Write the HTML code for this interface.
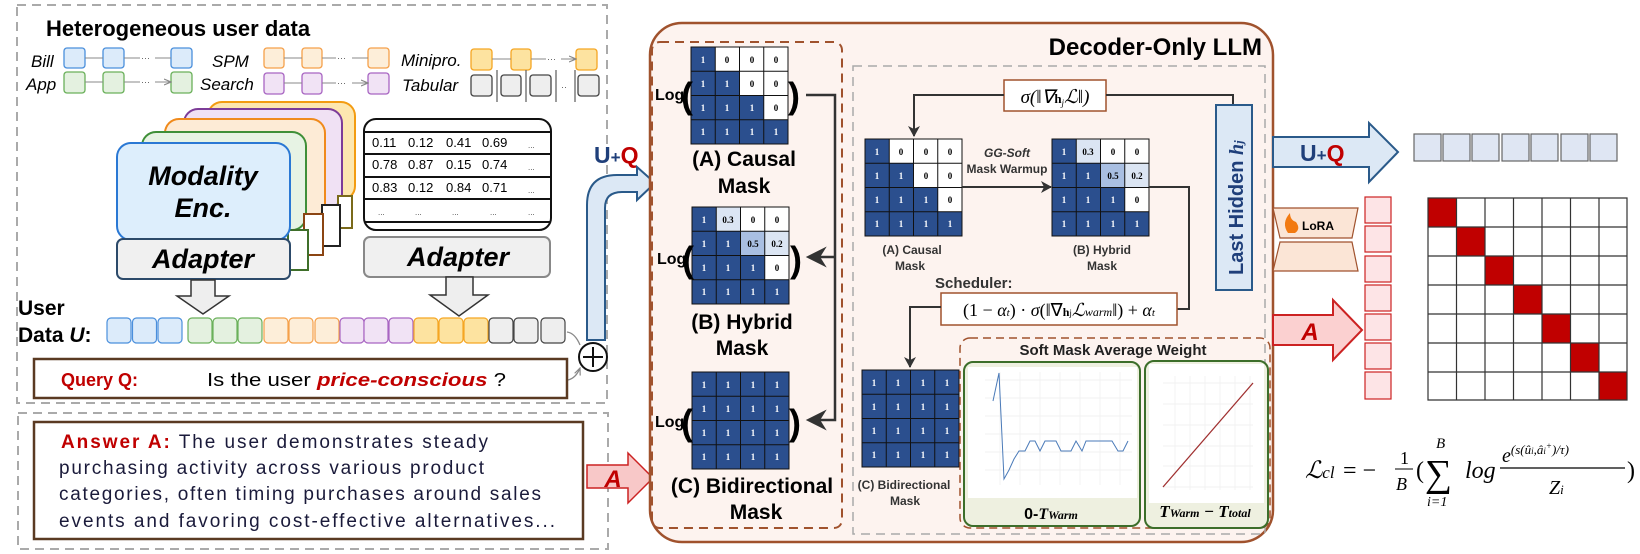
<!DOCTYPE html>
<html><head><meta charset="utf-8"><style>
body{margin:0;background:#fff}
svg{display:block;font-family:"Liberation Sans",sans-serif}
</style></head><body>
<svg width="1640" height="554" viewBox="0 0 1640 554" xmlns="http://www.w3.org/2000/svg">
<defs>
<marker id="ah" markerWidth="12" markerHeight="12" refX="10" refY="6" orient="auto" markerUnits="userSpaceOnUse"><path d="M0,0 L11,6 L0,12 L3,6z" fill="#333"/></marker>
<marker id="ag" markerWidth="8" markerHeight="8" refX="7" refY="4" orient="auto" markerUnits="userSpaceOnUse"><path d="M0,1 L7,4 L0,7" fill="none" stroke="#888" stroke-width="1.2"/></marker>
</defs>

<!-- left dashed boxes -->
<rect x="17" y="5" width="590" height="398" fill="none" stroke="#aaa" stroke-width="2" stroke-dasharray="9,6"/>
<rect x="18" y="413" width="590" height="136" fill="none" stroke="#aaa" stroke-width="2" stroke-dasharray="9,6"/>
<text x="46" y="36" font-size="22" font-weight="bold">Heterogeneous user data</text>

<!-- rows -->
<g font-style="italic" font-size="17">
<text x="31" y="67">Bill</text><text x="26" y="90">App</text>
<text x="212" y="67">SPM</text><text x="200" y="90">Search</text>
<text x="401" y="66">Minipro.</text><text x="402" y="91">Tabular</text>
</g>
<g stroke-width="1.3">
<g fill="#dcebfa" stroke="#4a8fdc"><rect x="64" y="48" width="21" height="20" rx="3"/><rect x="103" y="48" width="21" height="20" rx="3"/><rect x="171" y="48" width="21" height="20" rx="3"/></g>
<g fill="#e4f1e0" stroke="#6ab05a"><rect x="64" y="72" width="21" height="21" rx="3"/><rect x="103" y="72" width="21" height="21" rx="3"/><rect x="171" y="72" width="21" height="21" rx="3"/></g>
<g fill="#fdeed9" stroke="#f5a04a"><rect x="264" y="48" width="20" height="20" rx="3"/><rect x="302" y="48" width="20" height="20" rx="3"/><rect x="368" y="48" width="21" height="20" rx="3"/></g>
<g fill="#f1e3f5" stroke="#a865c2"><rect x="264" y="73" width="20" height="21" rx="3"/><rect x="302" y="73" width="20" height="21" rx="3"/><rect x="368" y="73" width="21" height="21" rx="3"/></g>
<g fill="#fde3a0" stroke="#f5a623"><rect x="471" y="49" width="21" height="21" rx="3"/><rect x="511" y="49" width="20" height="21" rx="3"/><rect x="576" y="49" width="21" height="21" rx="3"/></g>
<g fill="#eee" stroke="#444"><rect x="471" y="75" width="21" height="21" rx="3"/><rect x="501" y="75" width="20" height="21" rx="3"/><rect x="530" y="75" width="21" height="21" rx="3"/><rect x="578" y="75" width="21" height="21" rx="3"/></g>
<g stroke="#888" stroke-width="1" fill="none" marker-end="url(#ag)">
<path d="M85 58H103M124 58H140M155 58H171M85 82H103M124 82H140M155 82H171"/>
<path d="M284 58H302M322 58H336M352 58H368M284 83H302M322 83H336M352 83H368"/>
<path d="M492 59H511M531 59H546M561 59H576"/>
</g>
<path d="M497 70V102M526 70V102M556 70V102M575 70V102" stroke="#666"/>
</g>
<g font-size="9" fill="#555"><text x="141" y="61">···</text><text x="141" y="85">···</text><text x="337" y="61">···</text><text x="337" y="86">···</text><text x="547" y="62">···</text><text x="561" y="90">··</text></g>

<!-- encoder stack -->
<g stroke-width="2">
<rect x="208" y="102" width="147" height="98" rx="14" fill="#fde7b0" stroke="#f39c12"/>
<rect x="184" y="109" width="158" height="99" rx="14" fill="#f0e1f4" stroke="#7d3c98"/>
<rect x="165" y="119" width="160" height="99" rx="14" fill="#fdebd6" stroke="#f08a1c"/>
<rect x="142" y="132" width="164" height="98" rx="14" fill="#e7f3e4" stroke="#3f8f38"/>
<rect x="338" y="196" width="14" height="32" fill="#fff" stroke="#7a6a1a"/>
<rect x="322" y="205" width="18" height="41" fill="#fff" stroke="#222"/>
<rect x="304" y="214" width="19" height="41" fill="#fff" stroke="#8b4513"/>
<rect x="288" y="230" width="20" height="40" fill="#fff" stroke="#3f6f2a"/>
<rect x="117" y="143" width="173" height="97" rx="14" fill="#ddeefc" stroke="#2a78d4"/>
<rect x="117" y="239" width="173" height="40" rx="6" fill="#f0f0f0" stroke="#2c4a6a"/>
</g>
<text x="203" y="185" font-size="27" font-style="italic" font-weight="bold" text-anchor="middle">Modality</text>
<text x="203" y="217" font-size="27" font-style="italic" font-weight="bold" text-anchor="middle">Enc.</text>
<text x="203" y="268" font-size="27" font-style="italic" font-weight="bold" text-anchor="middle">Adapter</text>

<!-- table -->
<rect x="364" y="119" width="187" height="111" rx="12" fill="#fff" stroke="#111" stroke-width="2"/>
<path d="M364 132H551M364 154H551M364 177H551M364 199H551M364 222H551" stroke="#111" stroke-width="2"/>
<g font-size="13">
<text x="372" y="147">0.11</text><text x="408" y="147">0.12</text><text x="446" y="147">0.41</text><text x="482" y="147">0.69</text>
<text x="372" y="169">0.78</text><text x="408" y="169">0.87</text><text x="446" y="169">0.15</text><text x="482" y="169">0.74</text>
<text x="372" y="192">0.83</text><text x="408" y="192">0.12</text><text x="446" y="192">0.84</text><text x="482" y="192">0.71</text>
</g>
<g font-size="8" fill="#444"><text x="528" y="148">...</text><text x="528" y="170">...</text><text x="528" y="193">...</text>
<text x="378" y="215">...</text><text x="415" y="215">...</text><text x="452" y="215">...</text><text x="490" y="215">...</text><text x="528" y="215">...</text></g>
<rect x="364" y="237" width="186" height="40" rx="6" fill="#f0f0f0" stroke="#888" stroke-width="2"/>
<text x="458" y="266" font-size="27" font-style="italic" font-weight="bold" text-anchor="middle">Adapter</text>

<!-- down arrows -->
<path d="M191 280H215V296H229L203 314L177 296H191Z" fill="#eee" stroke="#333" stroke-width="1.5"/>
<path d="M446 277H473V295H488L459 316L430 295H446Z" fill="#eee" stroke="#333" stroke-width="1.5"/>

<!-- user data -->
<text x="18" y="315" font-size="21" font-weight="bold">User</text>
<text x="18" y="342" font-size="21" font-weight="bold">Data <tspan font-style="italic">U</tspan>:</text>
<g stroke-width="1.2">
<g fill="#dcebfa" stroke="#4a8fdc"><rect x="107" y="318" width="24" height="25" rx="4"/><rect x="132.5" y="318" width="24" height="25" rx="4"/><rect x="158" y="318" width="24" height="25" rx="4"/></g>
<g fill="#e4f1e0" stroke="#6ab05a"><rect x="188" y="318" width="24" height="25" rx="4"/><rect x="213" y="318" width="24" height="25" rx="4"/><rect x="238" y="318" width="24" height="25" rx="4"/></g>
<g fill="#fdeed9" stroke="#f5a04a"><rect x="264" y="318" width="24" height="25" rx="4"/><rect x="289" y="318" width="24" height="25" rx="4"/><rect x="315" y="318" width="24" height="25" rx="4"/></g>
<g fill="#f1e3f5" stroke="#a865c2"><rect x="340" y="318" width="24" height="25" rx="4"/><rect x="364" y="318" width="24" height="25" rx="4"/><rect x="389" y="318" width="24" height="25" rx="4"/></g>
<g fill="#fde3a0" stroke="#f5a623"><rect x="414" y="318" width="24" height="25" rx="4"/><rect x="439" y="318" width="24" height="25" rx="4"/><rect x="464" y="318" width="24" height="25" rx="4"/></g>
<g fill="#eee" stroke="#444"><rect x="489" y="318" width="24" height="25" rx="4"/><rect x="514" y="318" width="24" height="25" rx="4"/><rect x="541" y="318" width="24" height="25" rx="4"/></g>
</g>
<path d="M567 332Q575 333 580 345M568 380Q576 378 580 368" fill="none" stroke="#888" stroke-width="1.3" marker-end="url(#ag)"/>

<!-- U+Q up arrow -->
<path d="M587 340V205Q587 175 617 175H637V167L655 183L637 200V192H622Q605 192 605 208V340Z" fill="#dce8f5" stroke="#2a5a8a" stroke-width="2"/>
<text x="594" y="163" font-size="23" font-weight="bold" fill="#1f3f7a">U<tspan font-size="17">+</tspan><tspan fill="#c00000">Q</tspan></text>
<circle cx="593" cy="357" r="14" fill="#fff" stroke="#111" stroke-width="2"/>
<path d="M593 347V367M583 357H603" stroke="#111" stroke-width="2"/>

<!-- query -->
<rect x="34" y="359" width="533" height="39" fill="#fff" stroke="#5a3a22" stroke-width="2.5"/>
<text x="61" y="386" font-size="18" font-weight="bold" fill="#c00000">Query Q:</text>
<text x="207" y="386" font-size="18" textLength="299" lengthAdjust="spacingAndGlyphs">Is the user <tspan fill="#c00000" font-weight="bold" font-style="italic">price-conscious</tspan> ?</text>

<!-- answer -->
<rect x="34" y="422" width="549" height="117" fill="#fff" stroke="#5a3a22" stroke-width="2.5"/>
<g font-size="19" fill="#1a1a3a" lengthAdjust="spacingAndGlyphs">
<text x="61" y="448" textLength="427"><tspan fill="#c00000" font-weight="bold">Answer A:</tspan> The user demonstrates steady</text>
<text x="59" y="474" textLength="425">purchasing activity across various product</text>
<text x="59" y="500" textLength="482">categories, often timing purchases around sales</text>
<text x="59" y="527" textLength="496">events and favoring cost-effective alternatives...</text>
</g>
<path d="M587 465H628V453L653 478L628 503V488H587Z" fill="#f8c8c8" stroke="#cc2222" stroke-width="1.5"/>
<text x="613" y="487" font-size="24" font-style="italic" font-weight="bold" fill="#c00000" text-anchor="middle">A</text>

<!-- LLM box -->
<rect x="650" y="23" width="623" height="519" rx="32" fill="#fdf3ef" stroke="#a0522d" stroke-width="2.5"/>
<text x="1262" y="55" font-size="24" font-weight="bold" text-anchor="end">Decoder-Only LLM</text>
<rect x="652" y="42" width="190" height="486" rx="8" fill="none" stroke="#a0522d" stroke-width="2" stroke-dasharray="9,6"/>
<rect x="853" y="66" width="412" height="468" fill="none" stroke="#aaa" stroke-width="1.5" stroke-dasharray="9,6"/>

<!-- masks -->
<g font-family="Liberation Serif,serif" font-size="9" font-weight="bold" text-anchor="middle">
<g transform="translate(691,47)">
<rect width="97" height="97" fill="#2b4f8e"/><rect x="24.25" width="72.75" height="24.25" fill="#fff"/><rect x="48.5" y="24.25" width="48.5" height="24.25" fill="#fff"/><rect x="72.75" y="48.5" width="24.25" height="24.25" fill="#fff"/>
<path d="M0 0H97V97H0ZM0 24.25H97M0 48.5H97M0 72.75H97M24.25 0V97M48.5 0V97M72.75 0V97" fill="none" stroke="#111"/>
<text fill="#fff"><tspan x="12" y="16">1</tspan><tspan x="12 36" y="40">11</tspan><tspan x="12 36 61" y="64">111</tspan><tspan x="12 36 61 85" y="88">1111</tspan></text>
<text><tspan x="36 61 85" y="16">000</tspan><tspan x="61 85" y="40">00</tspan><tspan x="85" y="64">0</tspan></text>
</g>
<g transform="translate(692,207)">
<rect width="97" height="97" fill="#2b4f8e"/><rect x="24.25" width="24.25" height="24.25" fill="#dbe5f3"/><rect x="48.5" width="48.5" height="24.25" fill="#fff"/><rect x="48.5" y="24.25" width="24.25" height="24.25" fill="#a9bfe2"/><rect x="72.75" y="24.25" width="24.25" height="24.25" fill="#dbe5f3"/><rect x="72.75" y="48.5" width="24.25" height="24.25" fill="#fff"/>
<path d="M0 0H97V97H0ZM0 24.25H97M0 48.5H97M0 72.75H97M24.25 0V97M48.5 0V97M72.75 0V97" fill="none" stroke="#111"/>
<text fill="#fff"><tspan x="12" y="16">1</tspan><tspan x="12 36" y="40">11</tspan><tspan x="12 36 61" y="64">111</tspan><tspan x="12 36 61 85" y="88">1111</tspan></text>
<text><tspan x="36" y="16">0.3</tspan><tspan x="61 85" y="16">00</tspan><tspan x="61" y="40">0.5</tspan><tspan x="85" y="40">0.2</tspan><tspan x="85" y="64">0</tspan></text>
</g>
<g transform="translate(692,372)">
<rect width="97" height="97" fill="#2b4f8e"/>
<path d="M0 0H97V97H0ZM0 24.25H97M0 48.5H97M0 72.75H97M24.25 0V97M48.5 0V97M72.75 0V97" fill="none" stroke="#111"/>
<text fill="#fff"><tspan x="12 36 61 85" y="16">1111</tspan><tspan x="12 36 61 85" y="40">1111</tspan><tspan x="12 36 61 85" y="64">1111</tspan><tspan x="12 36 61 85" y="88">1111</tspan></text>
</g>
<g transform="translate(865,139)">
<rect width="97" height="97" fill="#2b4f8e"/><rect x="24.25" width="72.75" height="24.25" fill="#fff"/><rect x="48.5" y="24.25" width="48.5" height="24.25" fill="#fff"/><rect x="72.75" y="48.5" width="24.25" height="24.25" fill="#fff"/>
<path d="M0 0H97V97H0ZM0 24.25H97M0 48.5H97M0 72.75H97M24.25 0V97M48.5 0V97M72.75 0V97" fill="none" stroke="#111"/>
<text fill="#fff"><tspan x="12" y="16">1</tspan><tspan x="12 36" y="40">11</tspan><tspan x="12 36 61" y="64">111</tspan><tspan x="12 36 61 85" y="88">1111</tspan></text>
<text><tspan x="36 61 85" y="16">000</tspan><tspan x="61 85" y="40">00</tspan><tspan x="85" y="64">0</tspan></text>
</g>
<g transform="translate(1052,139)">
<rect width="97" height="97" fill="#2b4f8e"/><rect x="24.25" width="24.25" height="24.25" fill="#dbe5f3"/><rect x="48.5" width="48.5" height="24.25" fill="#fff"/><rect x="48.5" y="24.25" width="24.25" height="24.25" fill="#a9bfe2"/><rect x="72.75" y="24.25" width="24.25" height="24.25" fill="#dbe5f3"/><rect x="72.75" y="48.5" width="24.25" height="24.25" fill="#fff"/>
<path d="M0 0H97V97H0ZM0 24.25H97M0 48.5H97M0 72.75H97M24.25 0V97M48.5 0V97M72.75 0V97" fill="none" stroke="#111"/>
<text fill="#fff"><tspan x="12" y="16">1</tspan><tspan x="12 36" y="40">11</tspan><tspan x="12 36 61" y="64">111</tspan><tspan x="12 36 61 85" y="88">1111</tspan></text>
<text><tspan x="36" y="16">0.3</tspan><tspan x="61 85" y="16">00</tspan><tspan x="61" y="40">0.5</tspan><tspan x="85" y="40">0.2</tspan><tspan x="85" y="64">0</tspan></text>
</g>
<g transform="translate(862,370)">
<rect width="97" height="97" fill="#2b4f8e"/>
<path d="M0 0H97V97H0ZM0 24.25H97M0 48.5H97M0 72.75H97M24.25 0V97M48.5 0V97M72.75 0V97" fill="none" stroke="#111"/>
<text fill="#fff"><tspan x="12 36 61 85" y="16">1111</tspan><tspan x="12 36 61 85" y="40">1111</tspan><tspan x="12 36 61 85" y="64">1111</tspan><tspan x="12 36 61 85" y="88">1111</tspan></text>
</g>
</g>

<!-- Log parens -->
<g font-weight="bold">
<text x="655" y="100" font-size="16">Log</text><text x="681" y="108" font-size="36">(</text><text x="788" y="108" font-size="36">)</text>
<text x="657" y="264" font-size="16">Log</text><text x="682" y="272" font-size="36">(</text><text x="790" y="272" font-size="36">)</text>
<text x="655" y="427" font-size="16">Log</text><text x="681" y="435" font-size="36">(</text><text x="789" y="435" font-size="36">)</text>
</g>
<g font-size="21" font-weight="bold" text-anchor="middle">
<text x="744" y="166">(A) Causal</text><text x="744" y="193">Mask</text>
<text x="742" y="329">(B) Hybrid</text><text x="742" y="355">Mask</text>
<text x="752" y="493">(C) Bidirectional</text><text x="756" y="519">Mask</text>
</g>
<path d="M806 95H835V420H810M835 257H810" fill="none" stroke="#333" stroke-width="2.5"/>
<path d="M808 257L824 249L819 257L824 265ZM808 420L824 412L819 420L824 428Z" fill="#333" stroke="#333" stroke-width="2"/>

<!-- inner flow -->
<rect x="1004" y="80" width="102" height="31" fill="#fff" stroke="#a0522d" stroke-width="1.5"/>
<text x="1055" y="103" font-family="Liberation Serif,serif" font-size="19" font-style="italic" text-anchor="middle">σ(‖∇<tspan font-style="normal" font-weight="bold" font-size="13">h</tspan><tspan font-size="9" dy="3">j</tspan><tspan dy="-3">ℒ</tspan>‖)</text>
<path d="M1004 95H914V136" fill="none" stroke="#333" stroke-width="2" marker-end="url(#ah)"/>
<path d="M1106 95H1233V105" fill="none" stroke="#333" stroke-width="2"/>
<path d="M962 187H1051" fill="none" stroke="#333" stroke-width="2" marker-end="url(#ah)"/>
<text x="1007" y="157" font-size="12" font-weight="bold" font-style="italic" fill="#333" text-anchor="middle">GG-Soft</text>
<text x="1007" y="173" font-size="12" font-weight="bold" fill="#333" text-anchor="middle">Mask Warmup</text>
<path d="M1149 187H1189V309H1177" fill="none" stroke="#333" stroke-width="2"/>
<rect x="941" y="293" width="236" height="32" fill="#fff" stroke="#a0522d" stroke-width="1.5"/>
<text x="1059" y="316" font-family="Liberation Serif,serif" font-size="18" text-anchor="middle">(1 − <tspan font-style="italic">α<tspan font-size="11">t</tspan></tspan>) · <tspan font-style="italic">σ</tspan>(‖∇<tspan font-weight="bold" font-size="12">h</tspan><tspan font-size="9">j</tspan><tspan font-style="italic">ℒ<tspan font-size="12">warm</tspan></tspan>‖) + <tspan font-style="italic">α<tspan font-size="11">t</tspan></tspan></text>
<text x="935" y="288" font-size="15" font-weight="bold" fill="#333">Scheduler:</text>
<path d="M941 307H910V367" fill="none" stroke="#333" stroke-width="2" marker-end="url(#ah)"/>
<g font-size="12" font-weight="bold" fill="#333" text-anchor="middle">
<text x="912" y="254">(A) Causal</text><text x="910" y="270">Mask</text>
<text x="1102" y="254">(B) Hybrid</text><text x="1102" y="270">Mask</text>
<text x="904" y="489">(C) Bidirectional</text><text x="905" y="505">Mask</text>
</g>

<!-- soft mask -->
<rect x="960" y="338" width="310" height="190" rx="10" fill="none" stroke="#a0522d" stroke-width="1.5" stroke-dasharray="8,5"/>
<text x="1113" y="355" font-size="15" font-weight="bold" fill="#222" text-anchor="middle">Soft Mask Average Weight</text>
<rect x="964" y="362" width="176" height="164" rx="9" fill="#eef0e0" stroke="#3c6e2a" stroke-width="2"/>
<rect x="1145" y="361" width="123" height="167" rx="9" fill="#eef0e0" stroke="#3c6e2a" stroke-width="2"/>
<rect x="968" y="367" width="169" height="131" fill="#fff"/>
<rect x="1149" y="364" width="115" height="139" fill="#fff"/>
<g stroke="#eee" stroke-width="0.7"><path d="M985 380H1132M985 398H1132M985 416H1132M985 434H1132M985 452H1132M985 470H1132M1000 372V485M1020 372V485M1040 372V485M1060 372V485M1080 372V485M1100 372V485M1120 372V485"/>
<path d="M1163 383H1253M1163 404H1253M1163 425H1253M1163 446H1253M1163 466H1253M1163 487H1253M1175 376V490M1190 376V490M1205 376V490M1220 376V490M1235 376V490M1250 376V490"/></g>
<polyline points="993,401 999,373 1004,479 1009,470 1014,459 1019,451 1025,451 1030,441 1035,441 1040,451 1045,441 1051,441 1056,441 1061,451 1066,451 1071,451 1076,441 1082,451 1086,441 1092,441 1097,441 1102,441 1107,441 1112,441 1118,451 1123,451 1128,441" fill="none" stroke="#4a7ab8" stroke-width="1"/>
<polyline points="1163,487 1253,383" fill="none" stroke="#a03030" stroke-width="1.3"/>
<text x="1051" y="519" font-size="16" font-weight="bold" text-anchor="middle">0-<tspan font-family="Liberation Serif,serif" font-style="italic">T<tspan font-size="12">Warm</tspan></tspan></text>
<text x="1205" y="517" font-size="17" font-weight="bold" font-family="Liberation Serif,serif" font-style="italic" text-anchor="middle">T<tspan font-size="12">Warm</tspan> − T<tspan font-size="12">total</tspan></text>

<!-- last hidden -->
<rect x="1216" y="105" width="36" height="185" fill="#dce8f5" stroke="#2a5a8a" stroke-width="2"/>
<text transform="translate(1243,275) rotate(-90)" font-size="20" font-weight="bold" fill="#1f3f7a">Last Hidden <tspan font-family="Liberation Serif,serif" font-style="italic">h<tspan font-size="13">j</tspan></tspan></text>

<!-- right side -->
<path d="M1273 137H1369V123L1398 152L1369 182V167H1273Z" fill="#dce8f5" stroke="#2a5a8a" stroke-width="2"/>
<text x="1300" y="161" font-size="23" font-weight="bold" fill="#1f3f7a">U<tspan font-size="17">+</tspan><tspan fill="#c00000">Q</tspan></text>
<g fill="#dfe6f3" stroke="#666" stroke-width="1.2">
<rect x="1414" y="134" width="27" height="27"/><rect x="1443" y="134" width="27" height="27"/><rect x="1472" y="134" width="27" height="27"/><rect x="1502" y="134" width="27" height="27"/><rect x="1531" y="134" width="27" height="27"/><rect x="1561" y="134" width="27" height="27"/><rect x="1590" y="134" width="27" height="27"/>
</g>
<path d="M1273 208H1358L1352 238H1280Z" fill="#fbe5d6" stroke="#a0522d" stroke-width="1.2"/>
<path d="M1280 242H1352L1358 271H1273Z" fill="#fbe5d6" stroke="#a0522d" stroke-width="1.2"/>
<path d="M1288 233Q1281 223 1290 213Q1290 220 1296 222Q1301 229 1295 233Z" fill="#f27a12"/>
<text x="1302" y="230" font-size="12" font-weight="bold">LoRA</text>
<path d="M1273 315H1333V300L1362 330L1333 360V345H1273Z" fill="#fbd0d0" stroke="#cc2222" stroke-width="2"/>
<text x="1310" y="340" font-size="24" font-weight="bold" font-style="italic" fill="#c00000" text-anchor="middle">A</text>
<g fill="#fde4e6" stroke="#cc2222" stroke-width="1.2">
<rect x="1365" y="197" width="26" height="26"/><rect x="1365" y="226" width="26" height="26"/><rect x="1365" y="256" width="26" height="26"/><rect x="1365" y="285" width="26" height="26"/><rect x="1365" y="314" width="26" height="26"/><rect x="1365" y="343" width="26" height="26"/><rect x="1365" y="372" width="26" height="27"/>
</g>
<g fill="#c00000">
<rect x="1428" y="198" width="28.5" height="29"/><rect x="1456.5" y="227" width="28.5" height="29"/><rect x="1485" y="256" width="28.5" height="29"/><rect x="1513.5" y="285" width="28.5" height="29"/><rect x="1542" y="314" width="28.5" height="29"/><rect x="1570.5" y="343" width="28.5" height="29"/><rect x="1599" y="372" width="28.5" height="28"/>
</g>
<path d="M1428 198H1627V400H1428ZM1428 227H1627M1428 256H1627M1428 285H1627M1428 314H1627M1428 343H1627M1428 372H1627M1456.5 198V400M1485 198V400M1513.5 198V400M1542 198V400M1570.5 198V400M1599 198V400" fill="none" stroke="#333" stroke-width="1.2"/>

<!-- formula -->
<g font-family="Liberation Serif,serif" font-size="24">
<text x="1305" y="478" font-style="italic">ℒ<tspan font-size="17">cl</tspan></text>
<text x="1343" y="478">= −</text>
<text x="1400" y="464" font-size="18">1</text><path d="M1395 469H1413" stroke="#000"/><text x="1396" y="490" font-size="18" font-style="italic">B</text>
<text x="1416" y="478">(</text>
<text x="1425" y="486" font-size="38">∑</text>
<text x="1436" y="448" font-size="15" font-style="italic">B</text>
<text x="1427" y="506" font-size="14" font-style="italic">i=1</text>
<text x="1465" y="478" font-style="italic">log</text>
<text x="1502" y="462" font-size="20" font-style="italic">e<tspan font-size="13" dy="-8">(s(û<tspan font-size="9">i</tspan>,â<tspan font-size="9">i</tspan><tspan font-size="9" dy="-5">+</tspan><tspan dy="5">)/τ)</tspan></tspan></text>
<path d="M1500 468H1625" stroke="#000" stroke-width="1.2"/>
<text x="1549" y="494" font-size="20" font-style="italic">Z<tspan font-size="13">i</tspan></text>
<text x="1627" y="478">)</text>
</g>
</svg>
</body></html>
